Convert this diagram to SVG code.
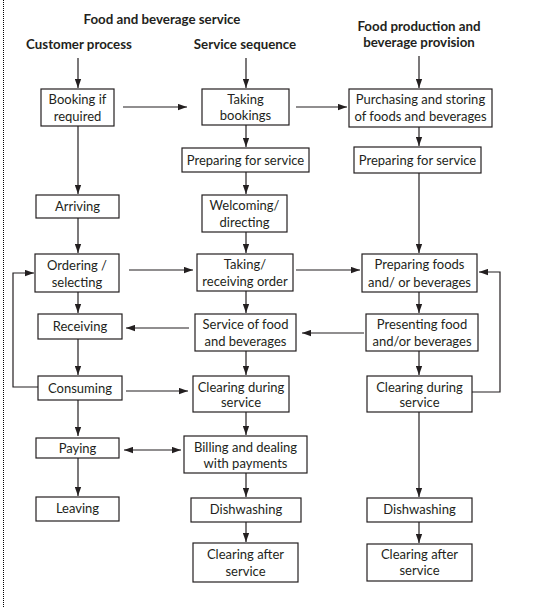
<svg xmlns="http://www.w3.org/2000/svg" width="558" height="607" viewBox="0 0 558 607">
<defs>
<marker id="ah" viewBox="0 0 10 7" refX="10" refY="3.5" markerWidth="9" markerHeight="7" markerUnits="userSpaceOnUse" orient="auto-start-reverse">
<path d="M0,0 L10,3.5 L0,7 z" fill="#231f20"/>
</marker>
</defs>
<style>
.box{fill:#fff;stroke:#231f20;stroke-width:1.2}
.t{font-family:Lato,"Liberation Sans",sans-serif;font-size:13px;fill:#231f20;text-anchor:middle}
.h{font-family:Lato,"Liberation Sans",sans-serif;font-size:13.3px;font-weight:bold;fill:#231f20;text-anchor:middle}
.c{fill:none;stroke:#231f20;stroke-width:1.2}
.a{marker-end:url(#ah)}
</style>
<rect width="558" height="607" fill="#fff"/>
<line x1="3.5" y1="0" x2="3.5" y2="607" stroke="#000" stroke-width="1" stroke-dasharray="1,1"/>
<g id="headers">
<text class="h" x="162" y="24">Food and beverage service</text>
<text class="h" x="79" y="49">Customer process</text>
<text class="h" x="245" y="49">Service sequence</text>
<text class="h" x="419" y="31">Food production and</text>
<text class="h" x="419" y="47">beverage provision</text>
</g>
<g id="connectors">
<line class="c a" x1="78" y1="58" x2="78" y2="88"/>
<line class="c a" x1="246" y1="58" x2="246" y2="88"/>
<line class="c a" x1="419" y1="56" x2="419" y2="88"/>
<line class="c a" x1="123" y1="107" x2="187" y2="107"/>
<line class="c a" x1="296" y1="107" x2="347" y2="107"/>
<line class="c a" x1="78" y1="126" x2="78" y2="194"/>
<line class="c a" x1="246" y1="125" x2="246" y2="147"/>
<line class="c a" x1="246" y1="172" x2="246" y2="194"/>
<line class="c a" x1="419" y1="127" x2="419" y2="146"/>
<line class="c a" x1="419" y1="173" x2="419" y2="253"/>
<line class="c a" x1="78" y1="218" x2="78" y2="253"/>
<line class="c a" x1="246" y1="232" x2="246" y2="253"/>
<line class="c a" x1="129" y1="270" x2="193" y2="270"/>
<line class="c a" x1="296" y1="270" x2="360" y2="270"/>
<line class="c a" x1="78" y1="292" x2="78" y2="313"/>
<line class="c a" x1="246" y1="291" x2="246" y2="313"/>
<line class="c a" x1="419" y1="292" x2="419" y2="313"/>
<line class="c a" x1="189" y1="328" x2="126" y2="328"/>
<line class="c a" x1="364" y1="333" x2="302" y2="333"/>
<line class="c a" x1="78" y1="339" x2="78" y2="375"/>
<line class="c a" x1="246" y1="351" x2="246" y2="375"/>
<line class="c a" x1="419" y1="351" x2="419" y2="375"/>
<line class="c a" x1="126" y1="391" x2="188" y2="391"/>
<polyline class="c a" points="38,387 13,387 13,273 34,273"/>
<polyline class="c a" points="472,392 500,392 500,272 479,272"/>
<line class="c a" x1="78" y1="400" x2="78" y2="436"/>
<line class="c a" x1="246" y1="412" x2="246" y2="435"/>
<line class="c a" x1="124" y1="450" x2="181" y2="450" marker-start="url(#ah)"/>
<line class="c a" x1="78" y1="458" x2="78" y2="496"/>
<line class="c a" x1="246" y1="473" x2="246" y2="497"/>
<line class="c a" x1="246" y1="522" x2="246" y2="542"/>
<line class="c a" x1="419" y1="412" x2="419" y2="497"/>
<line class="c a" x1="419" y1="522" x2="419" y2="543"/>
</g>
<g id="booking"><rect class="box" x="41" y="89" width="73" height="37"/><text class="t" x="77.5" y="104">Booking if</text><text class="t" x="77.5" y="121">required</text></g>
<g id="taking-bookings"><rect class="box" x="202" y="89" width="87" height="36"/><text class="t" x="245.5" y="104">Taking</text><text class="t" x="245.5" y="120">bookings</text></g>
<g id="purchasing"><rect class="box" x="349" y="89" width="143" height="38"/><text class="t" x="420.5" y="104">Purchasing and storing</text><text class="t" x="420.5" y="121">of foods and beverages</text></g>
<g id="prep-mid"><rect class="box" x="182" y="148" width="127" height="24"/><text class="t" x="245.5" y="164.5">Preparing for service</text></g>
<g id="prep-right"><rect class="box" x="354" y="147" width="127" height="26"/><text class="t" x="417.5" y="164.5">Preparing for service</text></g>
<g id="welcoming"><rect class="box" x="202" y="195" width="85" height="37"/><text class="t" x="244.5" y="210">Welcoming/</text><text class="t" x="244.5" y="227">directing</text></g>
<g id="arriving"><rect class="box" x="36" y="195" width="83" height="23"/><text class="t" x="77.5" y="211">Arriving</text></g>
<g id="ordering"><rect class="box" x="35" y="254" width="84" height="38"/><text class="t" x="77" y="270">Ordering  /</text><text class="t" x="77" y="287">selecting</text></g>
<g id="taking-order"><rect class="box" x="197" y="254" width="96" height="37"/><text class="t" x="245" y="269">Taking/</text><text class="t" x="245" y="286">receiving order</text></g>
<g id="preparing-foods"><rect class="box" x="362" y="254" width="115" height="38"/><text class="t" x="419.5" y="269">Preparing foods</text><text class="t" x="419.5" y="287">and/ or beverages</text></g>
<g id="receiving"><rect class="box" x="38" y="314" width="84" height="25"/><text class="t" x="80" y="331">Receiving</text></g>
<g id="service"><rect class="box" x="195" y="314" width="101" height="37"/><text class="t" x="245.5" y="329">Service of food</text><text class="t" x="245.5" y="346">and beverages</text></g>
<g id="presenting"><rect class="box" x="366" y="314" width="112" height="37"/><text class="t" x="422" y="329">Presenting food</text><text class="t" x="422" y="346">and/or beverages</text></g>
<g id="consuming"><rect class="box" x="38" y="376" width="84" height="24"/><text class="t" x="80" y="392.5">Consuming</text></g>
<g id="clearing-mid"><rect class="box" x="193" y="376" width="96" height="36"/><text class="t" x="241" y="392">Clearing during</text><text class="t" x="241" y="407">service</text></g>
<g id="clearing-right"><rect class="box" x="367" y="376" width="105" height="36"/><text class="t" x="419.5" y="392">Clearing during</text><text class="t" x="419.5" y="407">service</text></g>
<g id="paying"><rect class="box" x="36" y="438" width="83" height="20"/><text class="t" x="77.5" y="453">Paying</text></g>
<g id="billing"><rect class="box" x="184" y="436" width="123" height="37"/><text class="t" x="245.5" y="452">Billing and dealing</text><text class="t" x="245.5" y="468">with payments</text></g>
<g id="leaving"><rect class="box" x="36" y="497" width="83" height="24"/><text class="t" x="77.5" y="513">Leaving</text></g>
<g id="dish-mid"><rect class="box" x="191" y="498" width="110" height="24"/><text class="t" x="246" y="514">Dishwashing</text></g>
<g id="dish-right"><rect class="box" x="367" y="498" width="105" height="24"/><text class="t" x="419.5" y="514">Dishwashing</text></g>
<g id="clear-after-mid"><rect class="box" x="193" y="543" width="105" height="39"/><text class="t" x="245.5" y="559">Clearing after</text><text class="t" x="245.5" y="576">service</text></g>
<g id="clear-after-right"><rect class="box" x="367" y="544" width="105" height="37"/><text class="t" x="419.5" y="559">Clearing after</text><text class="t" x="419.5" y="575">service</text></g>
</svg>
